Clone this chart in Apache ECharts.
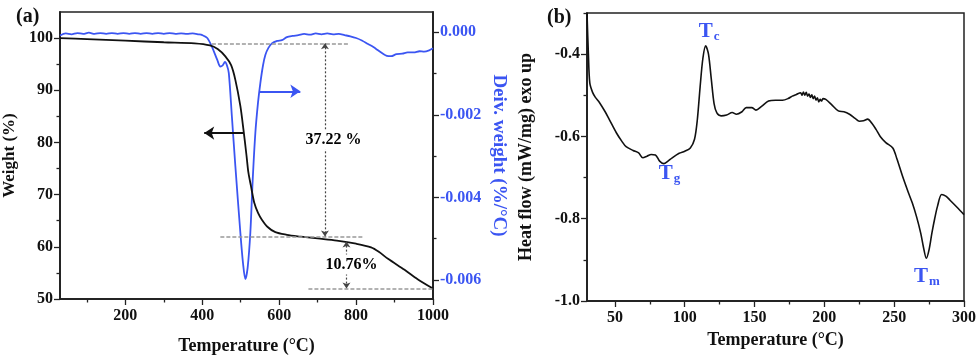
<!DOCTYPE html>
<html><head><meta charset="utf-8">
<script src="https://cdn.jsdelivr.net/npm/echarts@6/dist/echarts.min.js"></script>
<style>html,body{margin:0;padding:0;background:#fff}#c{width:980px;height:360px}</style>
</head><body><div id="c"></div>
<script>
// ---- Panel (a): TGA weight curve ----
const tgaTemp   = [30,100,200,300,380,420,440,460,475,486,499,507,515,520,527,535,545,555,570,590,620,650,700,750,800,839,860,883,926,960,1000];
const tgaWeight = [100.0,99.8,99.5,99.2,99.0,98.6,97.9,96.5,94.8,92.0,87.0,82.5,77.5,74.2,71.5,68.5,66.5,65.2,63.8,62.8,62.3,62.0,61.6,61.2,60.6,59.9,59.0,57.7,55.6,53.8,52.0];
// ---- Panel (a): DTG derivative curve ----
const dtgTemp  = [30,45,60,75,90,105,120,135,150,165,180,195,210,225,240,255,270,285,300,315,330,345,360,375,390,400,413,425,439,447,453,459,464,469,477,486,499,506,512,518,525,531,538,545,551,558,564,572,581,595,607,620,635,650,665,680,695,710,725,740,755,770,785,800,815,830,845,856,870,880,891,905,920,934,950,965,977,990,1000];
const dtgDeriv = [-0.00008,-0.00003,-0.00005,-0.00002,-0.00004,-0.00001,-0.00004,-0.00002,-0.00004,-0.00002,-0.00004,-0.00002,-0.00004,-0.00002,-0.00004,-0.00002,-0.00004,-0.00002,-0.00004,-0.00002,-0.00004,-0.00003,-0.00004,-0.00003,-0.00005,-0.00007,-0.00014,-0.00035,-0.00067,-0.00083,-0.00080,-0.00072,-0.00080,-0.00099,-0.00204,-0.00324,-0.00485,-0.00560,-0.00598,-0.00570,-0.00485,-0.00360,-0.00244,-0.00170,-0.00123,-0.00080,-0.00055,-0.00038,-0.00027,-0.00021,-0.00019,-0.00012,-0.00009,-0.00007,-0.00004,-0.00006,-0.00003,-0.00005,-0.00003,-0.00005,-0.00004,-0.00007,-0.00010,-0.00014,-0.00020,-0.00028,-0.00036,-0.00043,-0.00052,-0.00057,-0.00058,-0.00053,-0.00052,-0.00049,-0.00049,-0.00046,-0.00047,-0.00044,-0.00039];
// ---- Panel (b): DSC heat flow ----
const dscTemp = [30,31,32,34,36,39,43,46,51,55,58,63,67,70,73,76,79,82,85,88,91,96,100,104,107,109,111,113,115,117,119,121,123,126,130,134,137,141,144,148,151,155,160,165,170,174,177,180,183,184,185,186,187,188,189,190,191,192,193,194,195,196,197,198,199,201,205,210,214,218,222,225,228,231,234,237,240,244,249,252,256,260,263,266,269,271,273,275,277,279,281,284,287,290,295,300];
const dscHeat = [-0.30,-0.40,-0.47,-0.493,-0.505,-0.518,-0.54,-0.559,-0.591,-0.612,-0.625,-0.634,-0.640,-0.652,-0.648,-0.644,-0.645,-0.660,-0.666,-0.660,-0.652,-0.641,-0.636,-0.628,-0.607,-0.56,-0.48,-0.41,-0.38,-0.40,-0.46,-0.52,-0.543,-0.550,-0.548,-0.542,-0.546,-0.540,-0.530,-0.530,-0.536,-0.527,-0.514,-0.512,-0.512,-0.508,-0.502,-0.498,-0.494,-0.500,-0.492,-0.500,-0.493,-0.502,-0.497,-0.505,-0.499,-0.508,-0.502,-0.512,-0.506,-0.516,-0.510,-0.514,-0.508,-0.510,-0.522,-0.538,-0.540,-0.546,-0.556,-0.563,-0.562,-0.558,-0.568,-0.583,-0.600,-0.615,-0.628,-0.655,-0.697,-0.735,-0.762,-0.795,-0.835,-0.870,-0.896,-0.875,-0.835,-0.800,-0.770,-0.741,-0.745,-0.755,-0.772,-0.790];

// ---- tick labels ----
const aXLabels  = [200,400,600,800,1000];
const aXMinor   = [100,300,500,700,900];
const aYLabels  = [50,60,70,80,90,100];
const aYMinor   = [55,65,75,85,95];
const aY2Labels = [-0.006,-0.004,-0.002,0];
const aY2Minor  = [-0.005,-0.003,-0.001];
const bXLabels  = [50,100,150,200,250,300];
const bXMinor   = [75,125,175,225,275];
const bYLabels  = [-1.0,-0.8,-0.6,-0.4];
const bYMinor   = [-0.9,-0.7,-0.5,-0.3];

// ---- annotations (data coordinates) ----
const dashUpper = [[425,99.0],[783,99.0]];
const dashMid   = [[447,62.0],[821,62.0]];
const dashLow   = [[676,52.0],[1000,52.0]];
const arrow1    = [[719,99.0],[719,62.0]];
const arrow2    = [[775,61.0],[775,52.0]];
const blackArrow= [[508,81.8],[405,81.8]];
const blueArrow = [[549,-0.00143],[655,-0.00143]];
const txt1 = [741,80.5,'37.22 %'];
const txt2 = [788,56.6,'10.76%'];
const tLabels = [[89,-0.69,'g'],[117.5,-0.345,'c'],[273.5,-0.94,'m']];

const BLUE = '#3b55f2';
const FONT = '"Liberation Serif","Times New Roman",serif';
const zip = (a,b)=>a.map((v,i)=>[v,b[i]]);

function xAx(grid,min,max,labels,minor,main){
  return {
    type:'value',gridIndex:grid,min:min,max:max,position:'bottom',
    name: main?'Temperature (°C)':'', nameLocation:'middle',
    nameGap: grid===0?38:28,
    nameTextStyle:{fontFamily:FONT,fontWeight:'bold',fontSize:18,color:'#111'},
    axisLine:{show:true,onZero:false,lineStyle:{color:'#222',width:1.5}},
    axisTick:{show:true,inside:false,length:main?6:3.5,customValues:main?labels:minor,lineStyle:{color:'#222',width:1.3}},
    axisLabel:{show:true,customValues:main?labels:minor,margin:9,fontFamily:FONT,fontWeight:'bold',fontSize:16,color:'#111',
      formatter:main?(v=>String(v)):(()=>'')},
    splitLine:{show:false}
  };
}
function yAx(grid,min,max,labels,minor,main,pos,opts){
  opts=opts||{};
  return Object.assign({
    type:'value',gridIndex:grid,min:min,max:max,position:pos,
    nameLocation:'middle',
    axisLine:{show:true,onZero:false,lineStyle:{color:'#222',width:1.5}},
    axisTick:{show:true,inside:false,length:main?6:3.5,customValues:main?labels:minor,lineStyle:{color:'#222',width:1.3}},
    axisLabel:{show:true,customValues:main?labels:minor,margin:7,fontFamily:FONT,fontWeight:'bold',fontSize:16,color:opts.labelColor||'#111',
      formatter:main?(opts.fmt||(v=>String(v))):(()=>'')},
    splitLine:{show:false}
  },opts.extra||{});
}
function mline(pts,color,type,sym,width,symSize){
  return {silent:true,symbol:sym,symbolSize:symSize||8,label:{show:false},
    lineStyle:{color:color,type:type,width:width,opacity:1},
    data:[[{coord:pts[0]},{coord:pts[1]}]]};
}

const chart = echarts.init(document.getElementById('c'),null,{renderer:'canvas'});
chart.setOption({
  animation:false,
  backgroundColor:'#fff',
  title:[
    {text:'(a)',left:11,top:2,textStyle:{fontFamily:FONT,fontWeight:'bold',fontSize:20,color:'#111'}},
    {text:'(b)',left:542,top:3,textStyle:{fontFamily:FONT,fontWeight:'bold',fontSize:20,color:'#111'}}
  ],
  grid:[
    {left:57,right:547,top:12,bottom:60,show:true,borderColor:'#222',borderWidth:1.5,backgroundColor:'transparent'},
    {left:587,right:16,top:13,bottom:59,show:true,borderColor:'#222',borderWidth:1.5,backgroundColor:'transparent'}
  ],
  xAxis:[
    xAx(0,30,1000,aXLabels,aXMinor,true),
    xAx(0,30,1000,aXLabels,aXMinor,false),
    xAx(1,30,300,bXLabels,bXMinor,true),
    xAx(1,30,300,bXLabels,bXMinor,false)
  ],
  yAxis:[
    yAx(0,50,105,aYLabels,aYMinor,true,'left',{extra:{name:'Weight (%)',nameGap:42,nameTextStyle:{fontFamily:FONT,fontWeight:'bold',fontSize:17,color:'#111'}}}),
    yAx(0,-0.00646,0.00049,aY2Labels,aY2Minor,true,'right',{labelColor:BLUE,fmt:v=>v.toFixed(3),
      extra:{name:'Deiv. weight (%/°C)',nameGap:56,nameRotate:-90,nameTextStyle:{fontFamily:FONT,fontWeight:'bold',fontSize:19,color:BLUE}}}),
    yAx(0,50,105,aYLabels,aYMinor,false,'left'),
    yAx(0,-0.00646,0.00049,aY2Labels,aY2Minor,false,'right'),
    yAx(1,-1.0,-0.3,bYLabels,bYMinor,true,'left',{fmt:v=>v.toFixed(1),
      extra:{name:'Heat flow (mW/mg) exo up',nameGap:52,nameTextStyle:{fontFamily:FONT,fontWeight:'bold',fontSize:18,color:'#111'}}}),
    yAx(1,-1.0,-0.3,bYLabels,bYMinor,false,'left')
  ],
  series:[
    {type:'line',xAxisIndex:0,yAxisIndex:0,data:zip(tgaTemp,tgaWeight),showSymbol:false,smooth:0.3,z:3,
      lineStyle:{color:'#111',width:1.8},
      markLine:{silent:true,animation:false,symbol:['none','none'],label:{show:false},lineStyle:{color:'#999',type:[4,2],width:1.5},
        data:[
          [{coord:dashUpper[0]},{coord:dashUpper[1]}],
          [{coord:dashMid[0]},{coord:dashMid[1]}],
          [{coord:dashLow[0]},{coord:dashLow[1]}]
        ]}
    },
    {type:'line',xAxisIndex:0,yAxisIndex:0,data:[],markLine:mline(arrow1,'#444',[2,2],['arrow','arrow'],1.2,6)},
    {type:'line',xAxisIndex:0,yAxisIndex:0,data:[],markLine:mline(arrow2,'#444',[2,2],['arrow','arrow'],1.2,6)},
    {type:'line',xAxisIndex:0,yAxisIndex:0,data:[],markLine:mline(blackArrow,'#111','solid',['none','arrow'],2,10)},
    {type:'line',xAxisIndex:0,yAxisIndex:1,data:zip(dtgTemp,dtgDeriv),showSymbol:false,smooth:0.3,z:2,
      lineStyle:{color:BLUE,width:1.8},
      markLine:mline(blueArrow,BLUE,'solid',['none','arrow'],2,10)},
    {type:'scatter',xAxisIndex:0,yAxisIndex:0,symbolSize:1,silent:true,z:5,
      itemStyle:{opacity:0},
      data:[txt1,txt2],
      label:{show:true,position:'inside',formatter:p=>p.data[2],fontFamily:FONT,fontWeight:'bold',fontSize:16,color:'#000',opacity:1,
        backgroundColor:'#fff',padding:[2,1]}},
    {type:'line',xAxisIndex:2,yAxisIndex:4,data:zip(dscTemp,dscHeat),showSymbol:false,smooth:0.3,
      lineStyle:{color:'#111',width:1.6}},
    {type:'scatter',xAxisIndex:2,yAxisIndex:4,symbolSize:1,silent:true,
      itemStyle:{opacity:0},
      data:tLabels,
      label:{show:true,position:'inside',opacity:1,formatter:p=>'{t|T}{s|'+p.data[2]+'}',
        rich:{t:{fontFamily:FONT,fontWeight:'bold',fontSize:21,color:BLUE},
              s:{fontFamily:FONT,fontWeight:'bold',fontSize:13,color:BLUE,verticalAlign:'bottom',padding:[10,0,0,1]}}}}
  ]
});
</script></body></html>
